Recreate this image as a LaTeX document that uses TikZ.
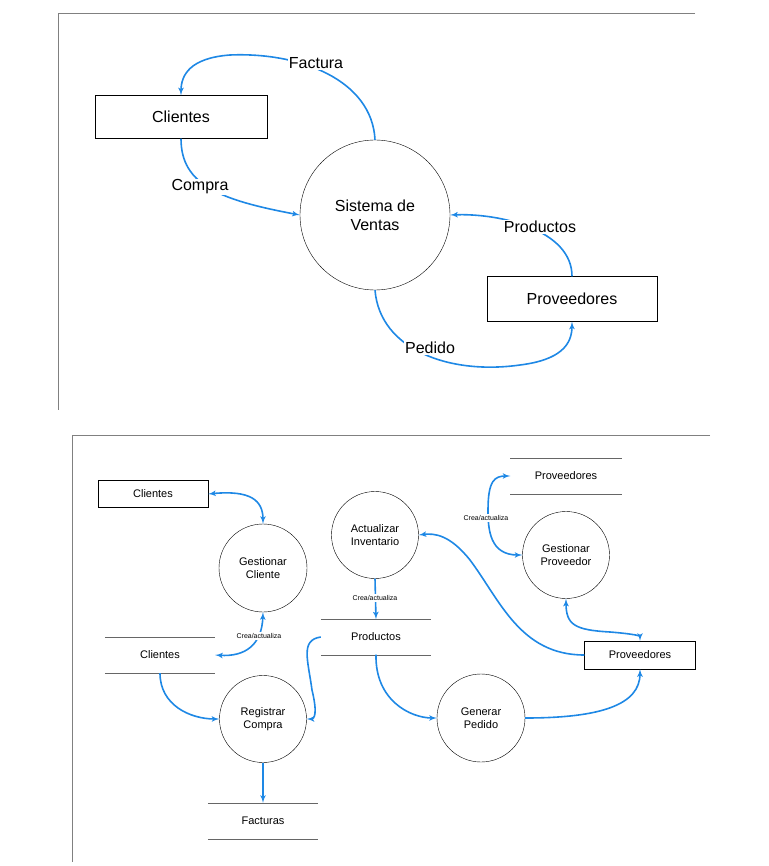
\documentclass[tikz,border=0pt]{standalone}
\usepackage{fontspec}
\setmainfont{Liberation Sans}
\usetikzlibrary{positioning}
\usetikzlibrary{arrows}
\definecolor{flowblue}{RGB}{30,136,229}
\begin{document}
\begin{tikzpicture}[>=latex', x=1pt, y=-1pt]
    \tikzset{entity/.style= {draw, rectangle, align=center, inner sep=0pt},
             proc/.style= {draw, circle, align=center, inner sep=0pt},
             store/.style= {rectangle, align=center, inner sep=0pt},
             flow/.style= {draw=flowblue, line width=1.6pt},
             lbl/.style= {fill=white, inner sep=1pt},
             big/.style= {font=\fontsize{16}{19}\selectfont},
             small/.style= {font=\fontsize{11}{13}\selectfont},
             tiny/.style= {font=\fontsize{7}{8}\selectfont, fill=white, inner sep=1pt}}
    \useasboundingbox (0,0) rectangle (768,866);

    % frames
    \draw[gray] (695,13) -- (58,13) -- (58,410);
    \draw[gray] (710,435) -- (72,435) -- (72,862);

    % context diagram
    \node [entity, big, minimum width=172pt, minimum height=43pt] (cli) at (181,117) {Clientes};
    \node [proc, big, minimum size=150pt] (sis) at (375,215) {Sistema de\\Ventas};
    \node [entity, big, minimum width=170pt, minimum height=45pt] (prv) at (572,299) {Proveedores};

    \path[flow,->]
                (sis.north) .. controls (372,80) and (300,52) .. (230,55) .. controls (190,58) and (181,75) .. (cli.north);
    \path[flow,->]
                (cli.south) .. controls (181,185) and (220,200) .. (sis.west);
    \path[flow,->]
                (prv.north) .. controls (572,230) and (500,213) .. (sis.east);
    \path[flow,->]
                (sis.south) .. controls (380,350) and (450,375) .. (520,365) .. controls (560,360) and (572,345) .. (prv.south);
    \node [big, lbl] (fac) at (316,63) {Factura};
    \node [big, lbl] (com) at (200,187) {Compra};
    \node [big, lbl] (pro) at (540,227) {Productos};
    \node [big, lbl] (ped) at (430,348) {Pedido};

    % level 1 diagram
    \node [entity, small, minimum width=110pt, minimum height=27pt] (ecli) at (153,494) {Clientes};
    \node [entity, small, minimum width=111pt, minimum height=28pt] (eprv) at (640,655) {Proveedores};
    \node [proc, small, minimum size=88pt] (gcli) at (263,568) {Gestionar\\Cliente};
    \node [proc, small, minimum size=87pt] (act) at (375,535) {Actualizar\\Inventario};
    \node [proc, small, minimum size=87pt] (gprv) at (566,555) {Gestionar\\Proveedor};
    \node [proc, small, minimum size=87pt] (reg) at (263,719) {Registrar\\Compra};
    \node [proc, small, minimum size=88pt] (gen) at (481,718) {Generar\\Pedido};
    \node [store, small, minimum width=111pt, minimum height=35pt] (sprv) at (566,476) {Proveedores};
    \node [store, small, minimum width=110pt, minimum height=36pt] (scli) at (160,655) {Clientes};
    \node [store, small, minimum width=110pt, minimum height=35pt] (spro) at (376,637) {Productos};
    \node [store, small, minimum width=110pt, minimum height=36pt] (sfac) at (263,821) {Facturas};
    \foreach \s in {sprv,scli,spro,sfac}
        \draw[gray!80!black] (\s.north west) -- (\s.north east) (\s.south west) -- (\s.south east);

    \path[flow,<->]
                (ecli.east) .. controls (250,490) and (263,500) .. (gcli.north);
    \path[flow,<->]
                (gcli.south) .. controls (262,645) and (245,657) .. (scli.east);
    \path[flow,->]
                (scli.south) .. controls (160,705) and (190,719) .. (reg.west);
    \path[flow,->]
                (spro.west) .. controls (300,640) and (308,660) .. (312,690) .. controls (318,715) and (314,719) .. (reg.east);
    \path[flow,->]
                (act.south) -- (spro.north);
    \path[flow,->]
                (spro.south) .. controls (375,700) and (410,718) .. (gen.west);
    \path[flow,->]
                (gen.east) .. controls (600,718) and (640,705) .. (eprv.south);
    \path[flow,->]
                (eprv.west) .. controls (520,655) and (500,600) .. (470,560) .. controls (450,535) and (435,533) .. (act.east);
    \path[flow,<->]
                (gprv.south) .. controls (566,625) and (575,630) .. (610,632) .. controls (635,634) and (640,636) .. (eprv.north);
    \path[flow,<->]
                (gprv.west) .. controls (490,555) and (488,530) .. (488,510) .. controls (488,480) and (495,476) .. (sprv.west);
    \path[flow,->]
                (reg.south) -- (sfac.north);
    \node [tiny] at (259,636) {Crea/actualiza};
    \node [tiny] at (375,598) {Crea/actualiza};
    \node [tiny] at (486,518) {Crea/actualiza};
\end{tikzpicture}
\end{document}
